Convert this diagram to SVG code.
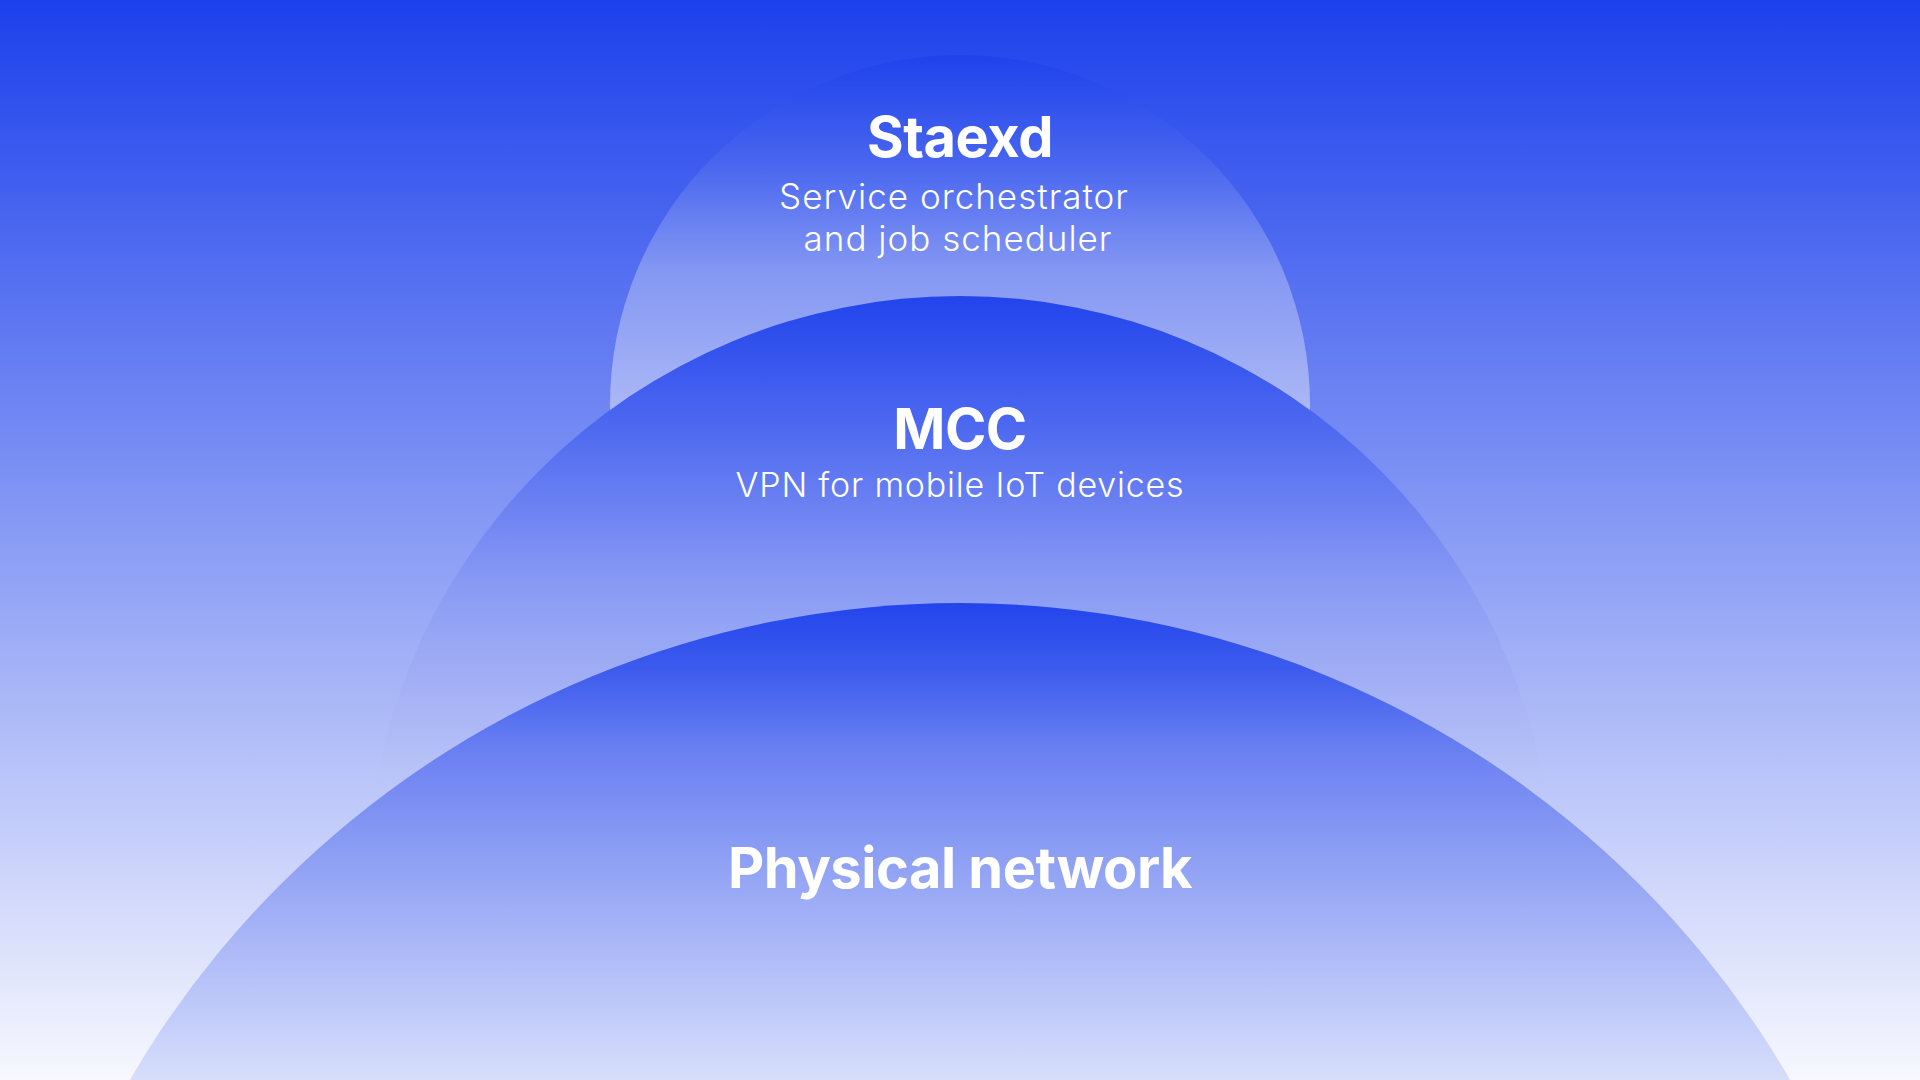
<svg xmlns="http://www.w3.org/2000/svg" width="1920" height="1080" viewBox="0 0 1920 1080">
  <defs>
    <linearGradient id="bg" gradientUnits="userSpaceOnUse" x1="0" y1="0" x2="0" y2="1080">
      <stop offset="0" stop-color="#1c40ec"/>
      <stop offset="1" stop-color="#f7f8fe"/>
    </linearGradient>
    <linearGradient id="gTop" gradientUnits="userSpaceOnUse" x1="0" y1="55" x2="0" y2="410">
      <stop offset="0" stop-color="#1f42ec"/>
      <stop offset="0.3" stop-color="#4765ef"/>
      <stop offset="0.6" stop-color="#8396f3"/>
      <stop offset="1" stop-color="#abb8f6"/>
    </linearGradient>
    <linearGradient id="gMid" gradientUnits="userSpaceOnUse" x1="0" y1="296" x2="0" y2="800">
      <stop offset="0" stop-color="#2244ec"/>
      <stop offset="0.24" stop-color="#4a66f0"/>
      <stop offset="0.58" stop-color="#8a9bf4"/>
      <stop offset="0.77" stop-color="#a3b0f5"/>
      <stop offset="1" stop-color="#bfc9f8"/>
    </linearGradient>
    <linearGradient id="gBot" gradientUnits="userSpaceOnUse" x1="0" y1="603" x2="0" y2="1080">
      <stop offset="0" stop-color="#2244ec"/>
      <stop offset="0.14" stop-color="#3d5cee"/>
      <stop offset="0.31" stop-color="#6a80f2"/>
      <stop offset="0.53" stop-color="#8d9ff4"/>
      <stop offset="1" stop-color="#d7defb"/>
    </linearGradient>
    <style>
      .title { font-family: Inter, "Liberation Sans", sans-serif; font-weight: 700; font-size: 56px; fill: #ffffff; text-anchor: middle; letter-spacing: -0.5px; }
      .sub { font-family: Inter, "Liberation Sans", sans-serif; font-weight: 300; font-size: 35px; fill: #ffffff; text-anchor: middle; letter-spacing: 1px; }
      .sub2 { font-size: 34px; letter-spacing: 0.8px; }
    </style>
  </defs>
  <rect x="0" y="0" width="1920" height="1080" fill="url(#bg)"/>
  <g id="staexd">
    <circle cx="960" cy="405" r="350" fill="url(#gTop)"/>
    <text class="title" x="960" y="157">Staexd</text>
    <text class="sub" x="954" y="209">Service orchestrator</text>
    <text class="sub" x="958" y="251">and job scheduler</text>
  </g>
  <g id="mcc">
    <circle cx="960" cy="890" r="594" fill="url(#gMid)"/>
    <text class="title" x="960" y="449">MCC</text>
    <text class="sub sub2" x="960" y="497">VPN for mobile IoT devices</text>
  </g>
  <g id="physical">
    <circle cx="960" cy="1564" r="961" fill="url(#gBot)"/>
    <text class="title" x="960" y="888">Physical network</text>
  </g>
  <g id="connectors"/>
</svg>
